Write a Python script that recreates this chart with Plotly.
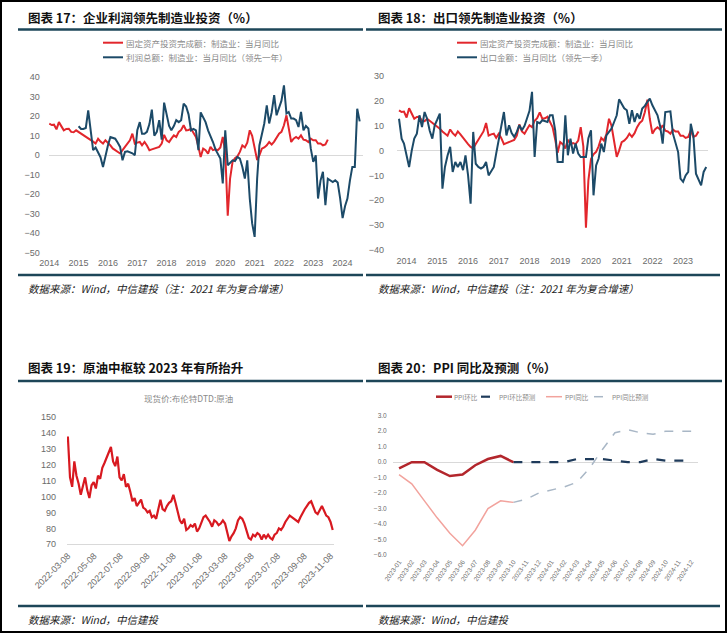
import pandas as pd
import plotly.graph_objects as go

W, H = 727, 633

# ---------------- data ----------------
# 固定资产投资完成额:制造业:当月同比 (monthly from 2014-01)
fai_mfg = [16.2, 15.5, 15.7, 13.3, 17.0, 14.5, 12.8, 13.5, 13.6, 12.0, 11.8, 12.8,
           12.0, 11.1, 10.5, 9.4, 8.8, 7.7, 7.0, 6.0, 8.5, 7.0, 6.0, 7.7,
           6.5, 5.1, 3.5, 2.6, 1.5, 0.9, 2.6, 4.3, 6.0, 7.7, 11.1, 6.0,
           6.5, 6.8, 5.1, 6.8, 5.0, 2.6, 3.0, 3.4, 4.0, 4.3, 6.0, 10.5,
           7.7, 6.8, 8.5, 10.2, 9.4, 12.0, 13.0, 15.4, 12.8, 13.0, 13.6, 11.5,
           9.4, 4.3, -0.9, 3.4, 2.6, 0.8, 4.3, 2.6, 3.0, 2.6, 4.0, 9.4,
           1.7, -31.0, -12.0, -3.4, -1.5, -0.5, 1.7, 5.1, 4.0, 6.5, 12.8, 10.0,
           3.0, -2.5, 0.0, 3.4, 4.0, 5.1, 6.8, 5.5, 7.0, 9.4, 11.1, 12.0,
           15.4, 20.5, 12.8, 6.8, 8.5, 9.4, 8.5, 10.2, 8.0, 7.7, 6.8, 8.5,
           7.7, 7.7, 6.0, 6.0, 5.1, 5.5, 8.0, 5.5, 6.0, 7.7]
fai_start = "2014-01-01"
fai_len_chart17 = 115

# 利润总额:制造业:当月同比(领先一年), plotted from 2015-01
profit_lead = [14.9, 13.5, 13.5, 14.0, 23.0, 12.0, 2.6, 4.0, 1.5, -1.0, -6.0, 0.0,
               5.0, 9.4, 9.0, 8.5, 6.5, 4.3, -2.6, 1.7, 2.0, 1.7, 1.0, 0.0,
               12.8, 17.0, 11.0, 11.0, 12.0, 16.0, 23.4, 10.0, 12.0, 18.0, 8.0, 27.0,
               21.0, 15.0, 12.8, 15.0, 18.0, 17.0, 18.0, 26.5, 25.0, 21.0, 12.8, 13.5,
               12.8, 2.6, 22.0, 19.7, 17.0, 12.8, 10.0, 6.8, 3.0, 0.8, -1.7, -14.5,
               12.8, -5.1, -4.0, -2.6, -3.0, -0.9, -1.7, -6.0, -12.0, -2.6, -22.2, -35.0,
               -41.9, -12.0, 5.0, 11.1, 16.3, 25.6, 16.3, 22.0, 30.8, 20.5, 23.9, 28.0,
               35.9, 21.4, 22.2, 18.8, 18.8, 18.0, 14.5, 22.2, 12.8, 15.0, 13.7, 3.4,
               -3.4, 0.0, -22.2, -13.0, -8.5, -25.6, -12.0, -13.0, -13.7, -12.8, -14.0, -22.0,
               -32.2, -26.0, -22.2, -13.0, -6.0, -6.0, 23.9, 17.4]
profit_start = "2015-01-01"

# 出口金额:当月同比(领先一季), plotted from 2014-01
export_lead = [12.8, 4.8, 2.8, -2.0, -6.6, 0.0, 4.8, 6.8, 14.2, 9.5, 15.5, 12.8,
               8.0, 4.8, 10.2, 12.5, 14.9, -15.3, -6.6, -2.0, 1.5, -8.6, -4.6, -6.6,
               -4.6, -7.9, -1.9, -10.0, -21.4, 7.5, -5.3, -6.6, -7.2, -6.6, -4.6, -10.0,
               -8.0, -6.6, -1.2, 4.8, 10.0, 15.5, 6.1, 10.2, 7.0, 5.5, 7.5, 10.2,
               8.2, 10.0, 12.8, 16.0, 23.6, -2.6, 11.5, 11.0, 12.2, 12.0, 11.5, 14.2,
               14.2, 8.0, -4.6, -4.6, -4.6, 14.2, -1.9, 4.8, -1.2, 2.8, -1.2, -2.6,
               -2.6, -2.6, 5.0, 8.2, -18.0, -6.0, -3.2, 2.8, -0.6, 6.1, 7.5, 8.8,
               11.5, 14.2, 20.6, 18.9, 17.0, 16.2, 10.8, 16.2, 11.5, 14.9, 12.8, 16.9,
               18.0, 19.6, 20.9, 18.2, 16.0, 14.2, 10.0, 2.8, 15.5, 15.5, 15.8, 6.8,
               3.0, -0.6, -11.3, -12.6, -10.0, -8.6, 10.8, 6.1, -9.3, -12.0, -14.0, -8.6,
               -6.6]
export_start = "2014-01-01"

# 现货价:布伦特DTD:原油 (every 5 days from 2022-03-08)
brent = [137.6, 112, 106, 122, 113, 108, 101, 106, 112, 104, 99, 107,
         109, 105, 113, 111, 118, 121, 124, 128, 131, 122, 119, 125,
         112, 110, 114, 106, 108, 103, 97, 99, 94, 96, 98, 93,
         92, 90, 91, 87, 88, 86, 93, 98, 92, 91, 94, 96,
         97, 101, 96, 90, 85, 83, 86, 79, 80, 82, 81, 83,
         78, 80, 84, 87, 88, 86, 84, 81, 85, 84, 82, 83,
         85, 83, 77, 72, 75, 77, 80, 85, 87, 86, 83, 79,
         74, 73, 76, 75, 77, 76, 73, 76, 74, 76, 74, 73,
         76, 77, 80, 79, 81, 84, 86, 88, 87, 86, 85, 84,
         87, 90, 92, 94, 96, 97, 94, 90, 89, 92, 94, 91,
         88, 87, 84, 79]
brent_start = "2022-03-08"
brent_ticks = ["2022-03-08", "2022-05-08", "2022-07-08", "2022-09-08", "2022-11-08",
               "2023-01-08", "2023-03-08", "2023-05-08", "2023-07-08", "2023-09-08",
               "2023-11-08"]

# PPI
ppi_months = ["2023-01", "2023-02", "2023-03", "2023-04", "2023-05", "2023-06",
              "2023-07", "2023-08", "2023-09", "2023-10", "2023-11", "2023-12",
              "2024-01", "2024-02", "2024-03", "2024-04", "2024-05", "2024-06",
              "2024-07", "2024-08", "2024-09", "2024-10", "2024-11", "2024-12"]
ppi_mom = [-0.4, 0.0, 0.0, -0.5, -0.9, -0.8, -0.2, 0.2, 0.4, 0.0]
ppi_mom_fc = [0.0, 0.0, 0.0, 0.0, 0.0, 0.2, 0.2, 0.2, 0.1, 0.0, 0.0, 0.2, 0.1, 0.1, 0.1]
ppi_yoy = [-0.8, -1.4, -2.5, -3.6, -4.6, -5.4, -4.4, -3.0, -2.5, -2.6]
ppi_yoy_fc = [-2.6, -2.4, -2.0, -1.8, -1.6, -1.3, -0.4, 0.8, 1.9, 2.1, 1.9, 1.8, 2.0, 2.0, 2.0]

# ---------------- helpers ----------------
def X(px):
    return px / W

def Y(py):
    return 1 - py / H

RED = "#e2262c"
BLUE = "#1c4a68"
RULE = "#1d4658"
TICK = "#6b6b6b"
CJK = "Noto Sans CJK SC"
NUM = "Liberation Sans, Arial"

fai_dates = pd.date_range(fai_start, periods=len(fai_mfg), freq="MS")
profit_dates = pd.date_range(profit_start, periods=len(profit_lead), freq="MS")
export_dates = pd.date_range(export_start, periods=len(export_lead), freq="MS")
brent_dates = pd.date_range(brent_start, periods=len(brent), freq="5D")

fig = go.Figure()

# chart 17
fig.add_trace(go.Scatter(x=fai_dates[:fai_len_chart17], y=fai_mfg[:fai_len_chart17],
                         mode="lines", line=dict(color=RED, width=2),
                         xaxis="x", yaxis="y", showlegend=False,
                         name="固定资产投资完成额:制造业:当月同比"))
fig.add_trace(go.Scatter(x=profit_dates, y=profit_lead, mode="lines",
                         line=dict(color=BLUE, width=2), xaxis="x", yaxis="y",
                         showlegend=False, name="利润总额:制造业:当月同比（领先一年）"))
# chart 18
fig.add_trace(go.Scatter(x=fai_dates, y=fai_mfg, mode="lines",
                         line=dict(color=RED, width=2), xaxis="x2", yaxis="y2",
                         showlegend=False, name="固定资产投资完成额:制造业:当月同比"))
fig.add_trace(go.Scatter(x=export_dates, y=export_lead, mode="lines",
                         line=dict(color=BLUE, width=2), xaxis="x2", yaxis="y2",
                         showlegend=False, name="出口金额:当月同比（领先一季）"))
# chart 19
fig.add_trace(go.Scatter(x=brent_dates, y=brent, mode="lines",
                         line=dict(color="#d81920", width=2.2), xaxis="x3", yaxis="y3",
                         showlegend=False, name="现货价:布伦特DTD:原油"))
# chart 20
fig.add_trace(go.Scatter(x=ppi_months[9:24], y=ppi_yoy_fc, mode="lines",
                         line=dict(color="#a9b7c6", width=1.5, dash="dash"),
                         xaxis="x4", yaxis="y4", showlegend=False, name="PPI同比预测"))
fig.add_trace(go.Scatter(x=ppi_months[:10], y=ppi_yoy, mode="lines",
                         line=dict(color="#f2a39d", width=1.5),
                         xaxis="x4", yaxis="y4", showlegend=False, name="PPI同比"))
fig.add_trace(go.Scatter(x=ppi_months[9:24], y=ppi_mom_fc, mode="lines",
                         line=dict(color="#1f3b5b", width=2.2, dash="dash"),
                         xaxis="x4", yaxis="y4", showlegend=False, name="PPI环比预测"))
fig.add_trace(go.Scatter(x=ppi_months[:10], y=ppi_mom, mode="lines",
                         line=dict(color="#b3262c", width=2.5),
                         xaxis="x4", yaxis="y4", showlegend=False, name="PPI环比"))

tickfont = dict(family=NUM, size=9, color=TICK)

years17 = list(range(2014, 2025))
years18 = list(range(2014, 2024))

fig.update_layout(
    width=W, height=H, margin=dict(l=0, r=0, t=0, b=0, autoexpand=False),
    paper_bgcolor="white", plot_bgcolor="white",
    xaxis=dict(domain=[X(48.7), X(363)], range=["2013-12-25", "2024-09-11"], type="date",
               tickvals=[f"{y}-01-01" for y in years17], ticktext=[str(y) for y in years17],
               showgrid=False, zeroline=False, showline=False, ticks="", automargin=False,
               tickfont=tickfont, anchor="y", ticklabelstandoff=3),
    yaxis=dict(domain=[Y(252.7), Y(77.3)], range=[-50, 40], dtick=10, tick0=0,
               showgrid=False, zeroline=True, zerolinecolor="#d9d9d9", zerolinewidth=1,
               showline=False, ticks="", tickfont=tickfont, anchor="x", automargin=False,
               ticklabelstandoff=8),
    xaxis2=dict(domain=[X(397), X(708)], range=["2013-12-08", "2024-01-22"], type="date",
                tickvals=[f"{y}-04-01" for y in years18], ticktext=[str(y) for y in years18],
                showgrid=False, zeroline=False, showline=False, ticks="", automargin=False,
                tickfont=tickfont, anchor="y2", ticklabelstandoff=4),
    yaxis2=dict(domain=[Y(250), Y(76)], range=[-40, 30], dtick=10, tick0=0,
                showgrid=False, zeroline=True, zerolinecolor="#d9d9d9", zerolinewidth=1,
                showline=False, ticks="", tickfont=tickfont, anchor="x2", automargin=False,
                ticklabelstandoff=12),
    xaxis3=dict(domain=[X(67), X(334)], range=["2022-03-06", "2023-11-16"], type="date",
                tickvals=brent_ticks, ticktext=brent_ticks, tickangle=-45,
                showgrid=False, zeroline=False, showline=True, linecolor="#d9d9d9",
                linewidth=1, ticks="", tickfont=tickfont, anchor="y3", automargin=False,
                ticklabelstandoff=2),
    yaxis3=dict(domain=[Y(544.3), Y(416.7)], range=[70, 150], dtick=10, tick0=70,
                showgrid=False, zeroline=False, showline=False, ticks="", automargin=False,
                tickfont=tickfont, anchor="x3", ticklabelstandoff=10),
    xaxis4=dict(domain=[X(392.7), X(697.5)], range=[-0.5, 23.5], type="category",
                categoryorder="array", categoryarray=ppi_months, tickangle=-55,
                showgrid=False, zeroline=False, showline=False, ticks="", automargin=False,
                tickfont=dict(family=NUM, size=6.5, color=TICK), anchor="y4",
                ticklabelstandoff=1),
    yaxis4=dict(domain=[Y(555), Y(415.7)], range=[-6, 3], dtick=1, tick0=0,
                tickformat=".1f", showgrid=False, zeroline=True, zerolinecolor="#d9d9d9",
                zerolinewidth=1, showline=False, ticks="", automargin=False,
                tickfont=dict(family=NUM, size=6.5, color=TICK), anchor="x4",
                ticklabelstandoff=5),
)

shapes = []
# rules
for (x0, x1, y) in [(18, 363, 29.5), (366, 722, 29.5), (18, 363, 275), (366, 720, 275),
                    (18, 363, 381), (366, 722, 381), (18, 363, 606), (366, 720, 606)]:
    shapes.append(dict(type="line", xref="paper", yref="paper", x0=X(x0), x1=X(x1),
                       y0=Y(y), y1=Y(y), line=dict(color=RULE, width=2.6)))
# legend samples
def sample(x0, x1, y, color, width, dash="solid"):
    shapes.append(dict(type="line", xref="paper", yref="paper", x0=X(x0), x1=X(x1),
                       y0=Y(y), y1=Y(y), line=dict(color=color, width=width, dash=dash)))

sample(103, 123, 42.7, RED, 2)
sample(103, 123, 57.3, BLUE, 2)
sample(457, 477, 42.7, RED, 2)
sample(457, 477, 57.3, BLUE, 2)
sample(436, 452, 396.7, "#b3262c", 2.5)
sample(481, 497, 396.7, "#1f3b5b", 2.2, "dash")
sample(546, 562, 396.7, "#f2a39d", 1.5)
sample(594, 609, 396.7, "#a9b7c6", 1.5, "dash")
# frame
shapes.append(dict(type="rect", xref="paper", yref="paper", x0=X(1), x1=X(726),
                   y0=Y(632), y1=Y(1), line=dict(color="black", width=2)))
fig.update_layout(shapes=shapes)

anns = []
def text(px, py, s, size, color, family=CJK, xanchor="left"):
    anns.append(dict(xref="paper", yref="paper", x=X(px), y=Y(py), text=s,
                     showarrow=False, xanchor=xanchor, yanchor="middle",
                     font=dict(family=family, size=size, color=color)))

# titles
text(26, 17, "<b>图表 17：企业利润领先制造业投资（%）</b>", 12.5, "#111")
text(376, 17, "<b>图表 18：出口领先制造业投资（%）</b>", 12.5, "#111")
text(26, 367, "<b>图表 19：原油中枢较 2023 年有所抬升</b>", 12.5, "#111")
text(376, 367, "<b>图表 20：PPI 同比及预测（%）</b>", 12.5, "#111")
# sources
text(26, 288, "<i>数据来源：Wind，中信建投（注：2021 年为复合增速）</i>", 10.5, "#222")
text(376, 288, "<i>数据来源：Wind，中信建投（注：2021 年为复合增速）</i>", 10.5, "#222")
text(26, 619, "<i>数据来源：Wind，中信建投</i>", 10.5, "#222")
text(376, 619, "<i>数据来源：Wind，中信建投</i>", 10.5, "#222")
# legends
LG = "#8a8a8a"
text(124, 42.7, "固定资产投资完成额：制造业：当月同比", 8.5, LG)
text(124, 57.3, "利润总额：制造业：当月同比（领先一年）", 8.5, LG)
text(478, 42.7, "固定资产投资完成额：制造业：当月同比", 8.5, LG)
text(478, 57.3, "出口金额：当月同比（领先一季）", 8.5, LG)
text(188, 398, "现货价:布伦特DTD:原油", 8.5, LG, xanchor="center")
text(452, 396.7, "PPI环比", 6.5, LG)
text(497, 396.7, "PPI环比预测", 6.5, LG)
text(563, 396.7, "PPI同比", 6.5, LG)
text(610, 396.7, "PPI同比预测", 6.5, LG)
fig.update_layout(annotations=anns)

fig.write_html("out.html")
